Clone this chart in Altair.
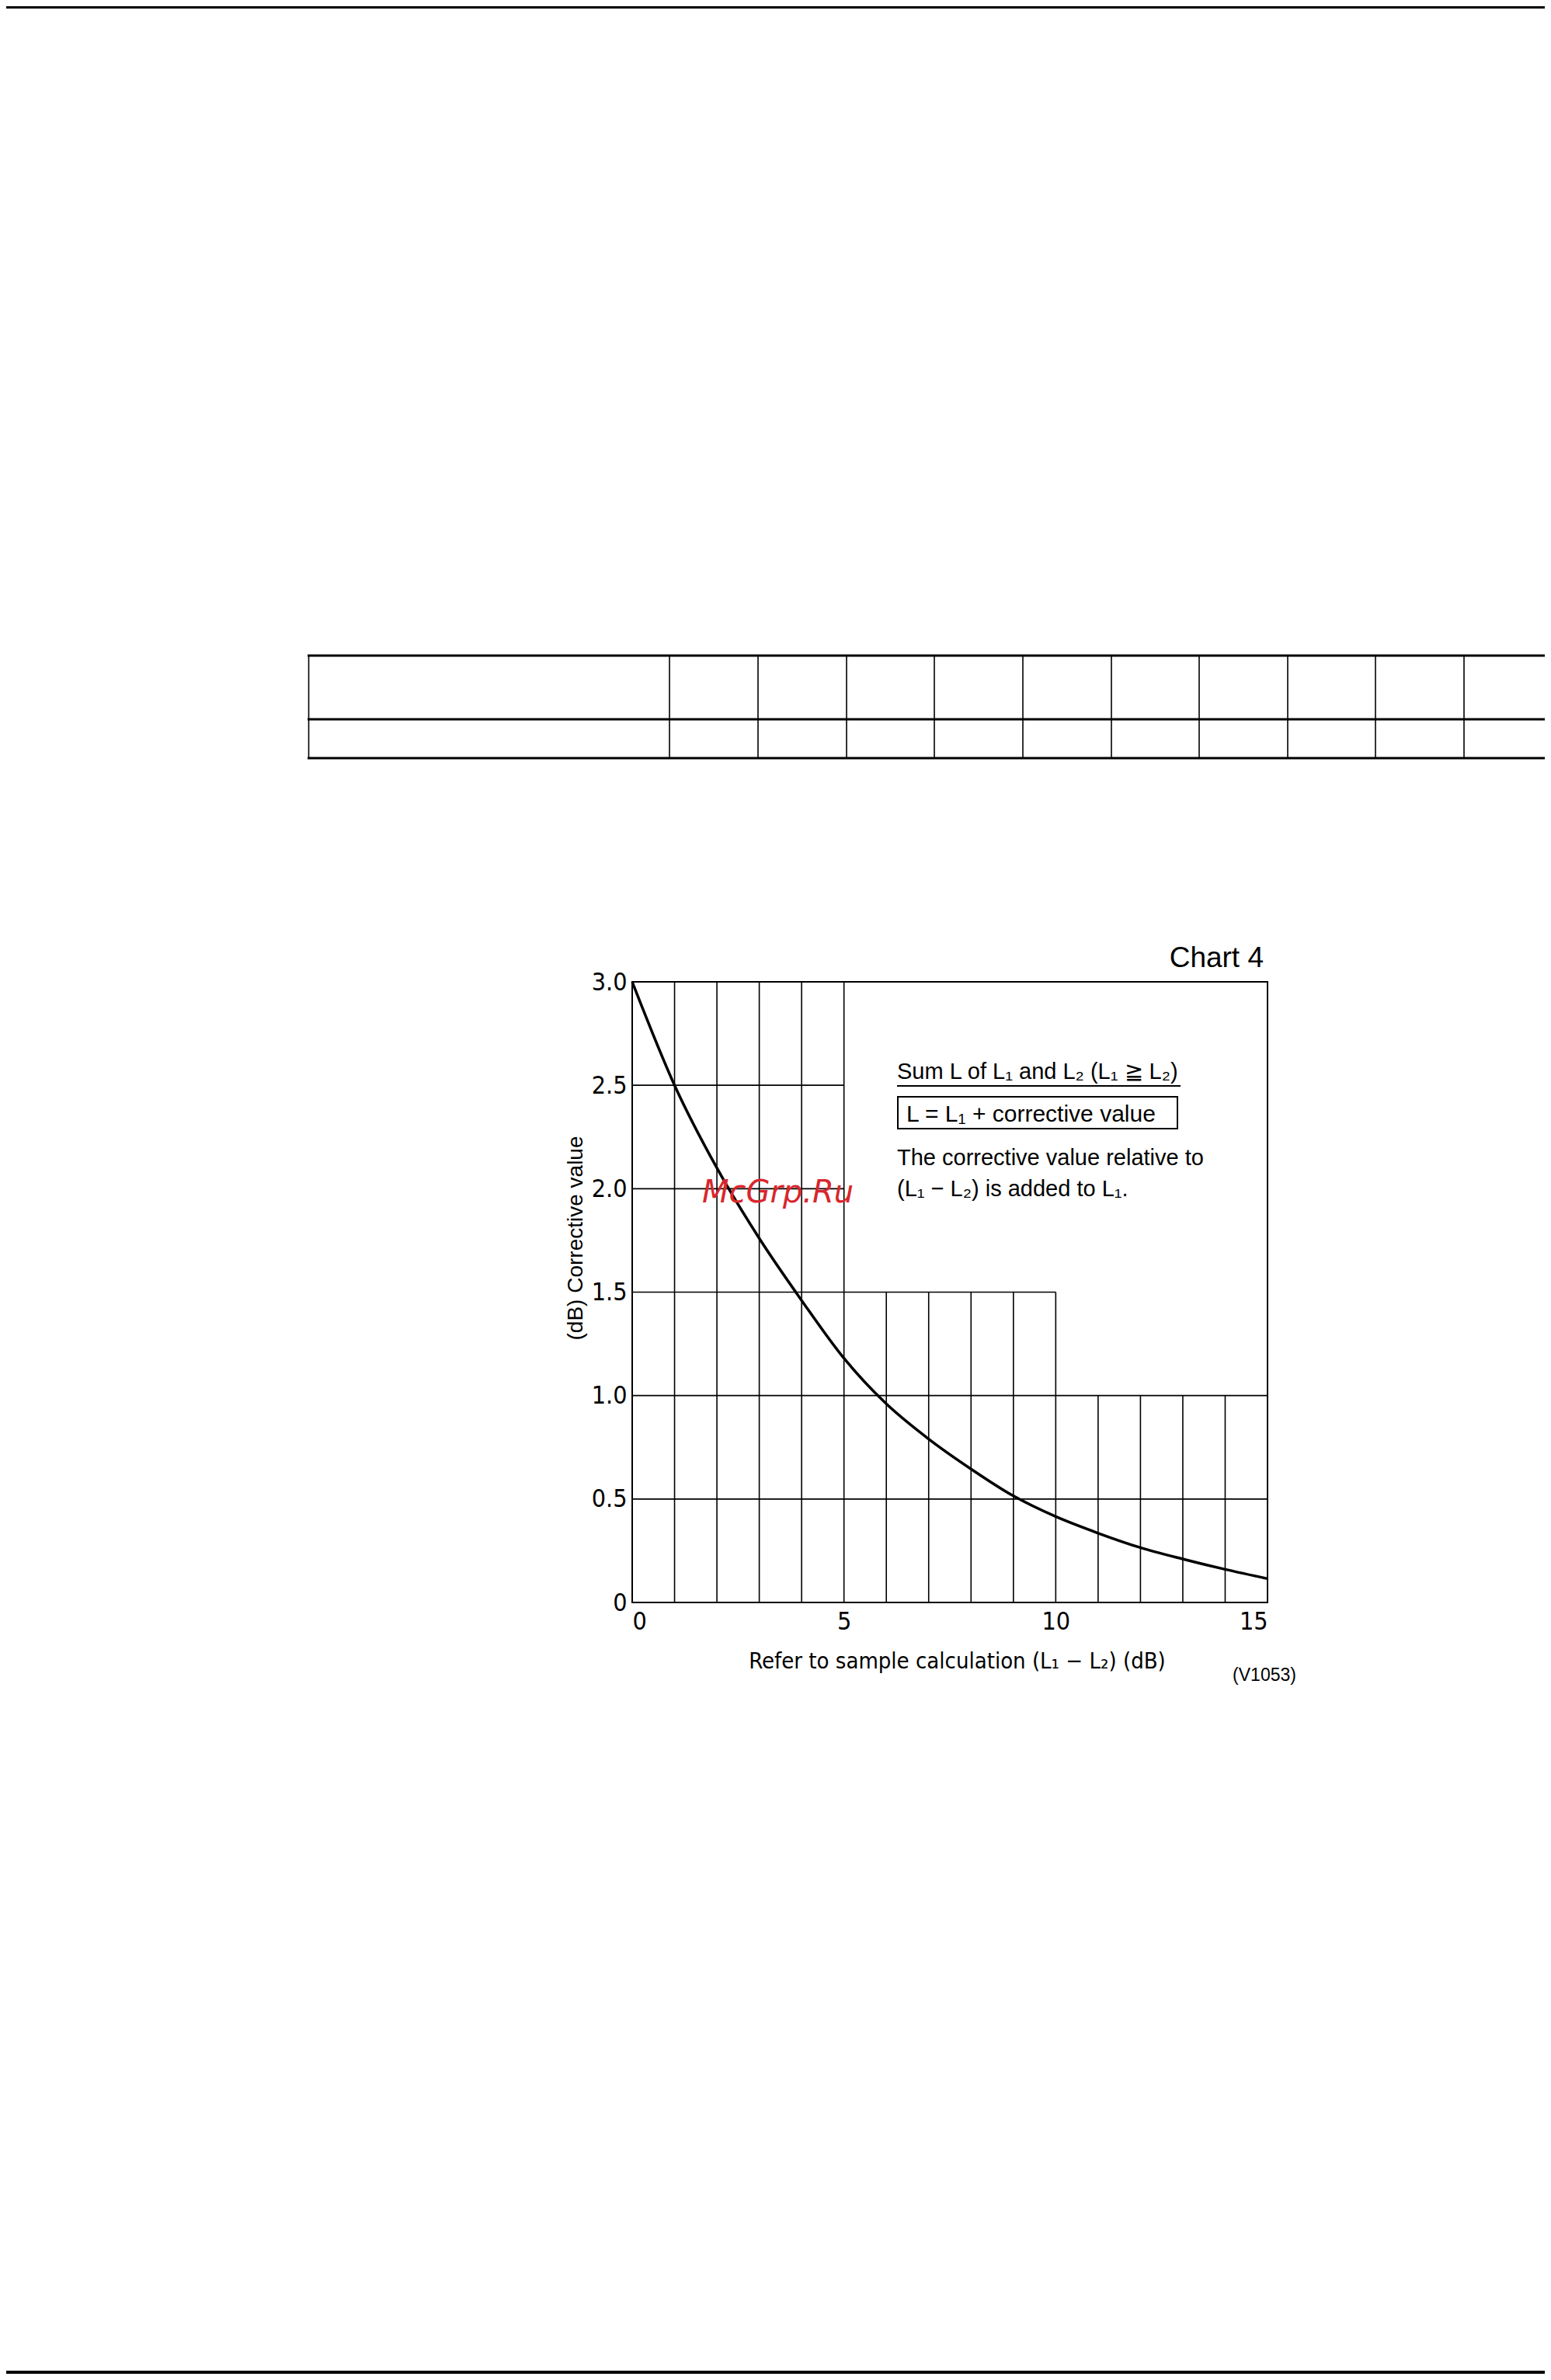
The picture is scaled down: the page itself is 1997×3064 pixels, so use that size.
import altair as alt
import pandas as pd

# ---- data ----
diff_db = list(range(16))
corrective = [3.0, 2.5, 2.1, 1.76, 1.46, 1.18, 0.96, 0.79, 0.645, 0.515,
              0.415, 0.335, 0.265, 0.21, 0.16, 0.115]

vgrid_x = list(range(1, 15))
vgrid_top = [3.0, 3.0, 3.0, 3.0, 3.0, 1.5, 1.5, 1.5, 1.5, 1.5, 1.0, 1.0, 1.0, 1.0]
hgrid_y = [0.5, 1.0, 1.5, 2.0, 2.5]
hgrid_end = [15, 15, 10, 5, 5]

x_ticks = [0, 5, 10, 15]
y_ticks = [0, 0.5, 1.0, 1.5, 2.0, 2.5, 3.0]

title_text = "Chart 4"
x_title = "Refer to sample calculation (L\u2081 \u2212 L\u2082) (dB)"
y_title = "(dB) Corrective value"
note1 = "Sum L of L\u2081 and L\u2082 (L\u2081 \u2267 L\u2082)"
note2 = "L = L\u2081 + corrective value"
note3 = "The corrective value relative to"
note4 = "(L\u2081 \u2212 L\u2082) is added to L\u2081."
code_text = "(V1053)"
watermark = "McGrp.Ru"

# ---- layout ----
W, H = 818, 799
PAD_L, PAD_T = 806, 1256
OX, OY = 8 + PAD_L, 8 + PAD_T   # page position of plot origin
CANVAS_W, CANVAS_H = 1981, 3048

def px(v):
    return v - OX

def py(v):
    return v - OY

NARROW = "Liberation Sans Narrow, DejaVu Sans Condensed, Roboto Condensed, sans-serif"
SANS = "Liberation Sans, Arial, Helvetica, sans-serif"

xs = alt.Scale(domain=[0, 15], nice=False, zero=False)
ys = alt.Scale(domain=[0, 3], nice=False, zero=False)

curve_df = pd.DataFrame({"d": diff_db, "c": corrective})
vgrid_df = pd.DataFrame({"x": vgrid_x, "top": vgrid_top, "base": [0] * len(vgrid_x)})
hgrid_df = pd.DataFrame({"y": hgrid_y, "xend": hgrid_end, "xstart": [0] * len(hgrid_y)})

curve = alt.Chart(curve_df).mark_line(
    color="black", strokeWidth=3.5, interpolate="monotone"
).encode(
    x=alt.X("d:Q", scale=xs,
            axis=alt.Axis(values=x_ticks, title=x_title, grid=False, ticks=False,
                          domain=False, labelFont=NARROW, labelFontSize=32,
                          labelColor="black", labelPadding=9, labelFontWeight="normal",
                          titleFont=NARROW, titleFontSize=29, titleFontWeight="normal",
                          titleColor="black", titleX=px(1232), titleY=2147 - (OY + H),
                          titleAlign="center", titleBaseline="alphabetic")),
    y=alt.Y("c:Q", scale=ys,
            axis=alt.Axis(values=y_ticks, title=None, grid=False, ticks=False,
                          domain=False, labelFont=NARROW, labelFontSize=32,
                          labelColor="black", labelPadding=7,
                          labelExpr="datum.value == 0 ? '0' : format(datum.value, '.1f')")),
)

vgrid = alt.Chart(vgrid_df).mark_rule(color="black", strokeWidth=1.6).encode(
    x=alt.X("x:Q", scale=xs),
    y=alt.Y("base:Q", scale=ys),
    y2="top:Q",
)
hgrid = alt.Chart(hgrid_df).mark_rule(color="black", strokeWidth=1.6).encode(
    y=alt.Y("y:Q", scale=ys),
    x=alt.X("xstart:Q", scale=xs),
    x2="xend:Q",
)

one = pd.DataFrame({"k": [0]})

def hrule(x1, x2, y, w):
    return alt.Chart(one).mark_rule(color="black", strokeWidth=w).encode(
        x=alt.value(px(x1)), x2=alt.value(px(x2)), y=alt.value(py(y)))

def vrule(x, y1, y2, w):
    return alt.Chart(one).mark_rule(color="black", strokeWidth=w).encode(
        x=alt.value(px(x)), y=alt.value(py(y1)), y2=alt.value(py(y2)))

def label(text, x, y, size, font=SANS, align="left", color="black",
          style="normal", angle=0, baseline="alphabetic", weight="normal"):
    return alt.Chart(pd.DataFrame({"t": [text]})).mark_text(
        font=font, fontSize=size, align=align, baseline=baseline, color=color,
        fontStyle=style, angle=angle, fontWeight=weight
    ).encode(x=alt.value(px(x)), y=alt.value(py(y)), text="t:N")

deco = []
# page rules
deco.append(hrule(8, 1989, 9.5, 3))
deco.append(hrule(8, 1989, 3054, 4))
# empty table
table_cols = [397.5, 862, 976, 1090, 1203, 1317, 1431, 1544, 1658, 1771, 1885]
for c in table_cols:
    deco.append(vrule(c, 844, 976, 1.6))
for ry in [844, 926, 976]:
    deco.append(hrule(396, 1989, ry, 3.2))

# annotation
deco.append(label(title_text, 1627, 1245, 37, weight=500, align="right"))
deco.append(label(note1, 1155, 1389, 29))
deco.append(hrule(1155, 1520, 1398, 2))
deco.append(alt.Chart(one).mark_rect(fillOpacity=0, stroke="black", strokeWidth=2).encode(
    x=alt.value(px(1156)), x2=alt.value(px(1516)),
    y=alt.value(py(1412)), y2=alt.value(py(1453))))
deco.append(label(note2, 1167, 1444, 30))
deco.append(label(note3, 1155, 1500, 29))
deco.append(label(note4, 1155, 1540, 29))
deco.append(label(y_title, 750, 1594, 28, align="center", angle=270))
deco.append(label(code_text, 1628, 2164, 23, align="center"))
deco.append(label(watermark, 904, 1548, 40, font="DejaVu Sans, Verdana, sans-serif",
                  color="#d9262c", style="italic"))

chart = alt.layer(hgrid, vgrid, curve, *deco).properties(
    width=W, height=H,
    autosize="none",
    padding={"left": PAD_L, "top": PAD_T,
             "right": CANVAS_W - PAD_L - W, "bottom": CANVAS_H - PAD_T - H},
    background="white",
).configure_view(stroke="black", strokeWidth=2)

chart.save("out.html", embed_options={"renderer": "svg", "actions": False})
